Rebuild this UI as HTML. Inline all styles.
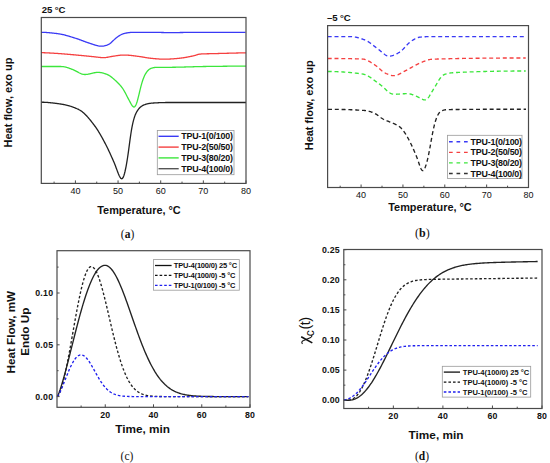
<!DOCTYPE html>
<html><head><meta charset="utf-8"><style>
html,body{margin:0;padding:0;background:#fff;}
svg{display:block;}
text{font-family:"Liberation Sans",sans-serif;fill:#111;}
.b{font-weight:bold;}
.cap{font-family:"Liberation Serif",serif;}
</style></head><body>
<svg width="550" height="463" viewBox="0 0 550 463">
<rect width="550" height="463" fill="#fff"/>
<g id="pa">
<text x="41.8" y="12.9" font-size="9.6" letter-spacing="-0.1" class="b">25 °C</text>
<text transform="translate(12.4,102.5) rotate(-90)" font-size="11" class="b" text-anchor="middle">Heat flow, exo up</text>
<polyline points="41,32.31 41.5,32.31 42,32.32 42.5,32.33 43,32.34 43.5,32.36 44,32.37 44.5,32.4 45,32.42 45.5,32.45 46,32.47 46.5,32.51 47,32.54 47.5,32.58 48,32.62 48.5,32.66 49,32.7 49.5,32.74 50,32.79 50.5,32.84 51,32.89 51.5,32.94 52,32.99 52.5,33.05 53,33.1 53.5,33.16 54,33.22 54.5,33.28 55,33.33 55.5,33.39 56,33.46 56.5,33.52 57,33.58 57.5,33.65 58,33.71 58.5,33.78 59,33.86 59.5,33.94 60,34.02 60.5,34.11 61,34.2 61.5,34.3 62,34.41 62.5,34.51 63,34.63 63.5,34.74 64,34.86 64.5,34.99 65,35.12 65.5,35.25 66,35.38 66.5,35.52 67,35.66 67.5,35.8 68,35.95 68.5,36.09 69,36.24 69.5,36.39 70,36.54 70.5,36.7 71,36.85 71.5,37 72,37.16 72.5,37.32 73,37.47 73.5,37.63 74,37.78 74.5,37.94 75,38.09 75.5,38.25 76,38.41 76.5,38.57 77,38.73 77.5,38.9 78,39.07 78.5,39.24 79,39.42 79.5,39.6 80,39.78 80.5,39.96 81,40.15 81.5,40.34 82,40.53 82.5,40.72 83,40.91 83.5,41.1 84,41.29 84.5,41.48 85,41.67 85.5,41.85 86,42.04 86.5,42.22 87,42.4 87.5,42.57 88,42.74 88.5,42.91 89,43.08 89.5,43.24 90,43.4 90.5,43.56 91,43.72 91.5,43.89 92,44.05 92.5,44.22 93,44.39 93.5,44.55 94,44.72 94.5,44.88 95,45.04 95.5,45.19 96,45.34 96.5,45.48 97,45.62 97.5,45.74 98,45.85 98.5,45.95 99,46.03 99.5,46.1 100,46.15 100.5,46.19 101,46.21 101.5,46.21 102,46.19 102.5,46.15 103,46.09 103.5,46.02 104,45.93 104.5,45.82 105,45.7 105.5,45.57 106,45.42 106.5,45.26 107,45.09 107.5,44.89 108,44.68 108.5,44.44 109,44.17 109.5,43.87 110,43.52 110.5,43.14 111,42.72 111.5,42.27 112,41.8 112.5,41.32 113,40.83 113.5,40.34 114,39.85 114.5,39.38 115,38.93 115.5,38.5 116,38.09 116.5,37.69 117,37.31 117.5,36.95 118,36.59 118.5,36.24 119,35.91 119.5,35.58 120,35.27 120.5,34.98 121,34.71 121.5,34.46 122,34.23 122.5,34.03 123,33.85 123.5,33.69 124,33.54 124.5,33.41 125,33.3 125.5,33.19 126,33.09 126.5,33 127,32.91 127.5,32.82 128,32.74 128.5,32.67 129,32.61 129.5,32.55 130,32.49 130.5,32.45 131,32.41 131.5,32.38 132,32.35 132.5,32.33 133,32.32 133.5,32.31 134,32.31 134.5,32.3 135,32.3 135.5,32.3 136,32.3 136.5,32.3 137,32.3 137.5,32.3 138,32.3 138.5,32.3 139,32.3 139.5,32.3 140,32.3 140.5,32.3 141,32.3 141.5,32.3 142,32.3 142.5,32.3 143,32.3 143.5,32.3 144,32.3 144.5,32.3 145,32.3 145.5,32.3 146,32.3 146.5,32.3 147,32.3 147.5,32.3 148,32.3 148.5,32.3 149,32.3 149.5,32.3 150,32.3 150.5,32.3 151,32.31 151.5,32.31 152,32.31 152.5,32.32 153,32.32 153.5,32.33 154,32.33 154.5,32.34 155,32.35 155.5,32.36 156,32.37 156.5,32.38 157,32.39 157.5,32.4 158,32.41 158.5,32.42 159,32.43 159.5,32.44 160,32.45 160.5,32.46 161,32.47 161.5,32.48 162,32.49 162.5,32.5 163,32.51 163.5,32.52 164,32.53 164.5,32.54 165,32.55 165.5,32.56 166,32.57 166.5,32.57 167,32.58 167.5,32.58 168,32.59 168.5,32.59 169,32.59 169.5,32.6 170,32.6 170.5,32.6 171,32.6 171.5,32.6 172,32.59 172.5,32.59 173,32.59 173.5,32.59 174,32.58 174.5,32.58 175,32.58 175.5,32.57 176,32.57 176.5,32.56 177,32.56 177.5,32.55 178,32.55 178.5,32.54 179,32.53 179.5,32.53 180,32.52 180.5,32.51 181,32.51 181.5,32.5 182,32.49 182.5,32.49 183,32.48 183.5,32.47 184,32.46 184.5,32.46 185,32.45 185.5,32.44 186,32.44 186.5,32.43 187,32.42 187.5,32.41 188,32.41 188.5,32.4 189,32.39 189.5,32.39 190,32.38 190.5,32.37 191,32.37 191.5,32.36 192,32.35 192.5,32.35 193,32.34 193.5,32.34 194,32.33 194.5,32.33 195,32.32 195.5,32.32 196,32.32 196.5,32.31 197,32.31 197.5,32.31 198,32.31 198.5,32.3 199,32.3 199.5,32.3 200,32.3 200.5,32.3 201,32.3 201.5,32.3 202,32.3 202.5,32.3 203,32.3 203.5,32.3 204,32.3 204.5,32.3 205,32.3 205.5,32.3 206,32.3 206.5,32.3 207,32.3 207.5,32.3 208,32.3 208.5,32.3 209,32.3 209.5,32.3 210,32.3 210.5,32.3 211,32.3 211.5,32.3 212,32.3 212.5,32.3 213,32.3 213.5,32.3 214,32.3 214.5,32.3 215,32.3 215.5,32.3 216,32.3 216.5,32.3 217,32.3 217.5,32.3 218,32.3 218.5,32.3 219,32.3 219.5,32.3 220,32.3 220.5,32.3 221,32.3 221.5,32.3 222,32.3 222.5,32.3 223,32.3 223.5,32.3 224,32.3 224.5,32.3 225,32.3 225.5,32.3 226,32.3 226.5,32.3 227,32.3 227.5,32.3 228,32.3 228.5,32.3 229,32.3 229.5,32.3 230,32.3 230.5,32.3 231,32.3 231.5,32.3 232,32.3 232.5,32.3 233,32.3 233.5,32.3 234,32.3 234.5,32.3 235,32.3 235.5,32.3 236,32.3 236.5,32.3 237,32.3 237.5,32.3 238,32.3 238.5,32.3 239,32.3 239.5,32.3 240,32.3 240.5,32.3 241,32.3 241.5,32.3 242,32.3 242.5,32.3 243,32.3 243.5,32.3 244,32.3 244.5,32.3 245,32.3 245.5,32.3" fill="none" stroke="#3a3af5" stroke-width="1.3" stroke-linejoin="round"/>
<polyline points="41,52.62 41.5,52.64 42,52.65 42.5,52.67 43,52.68 43.5,52.71 44,52.73 44.5,52.75 45,52.77 45.5,52.79 46,52.82 46.5,52.84 47,52.87 47.5,52.89 48,52.92 48.5,52.94 49,52.97 49.5,53 50,53.02 50.5,53.05 51,53.08 51.5,53.11 52,53.13 52.5,53.16 53,53.19 53.5,53.22 54,53.25 54.5,53.28 55,53.31 55.5,53.34 56,53.37 56.5,53.41 57,53.44 57.5,53.47 58,53.5 58.5,53.54 59,53.57 59.5,53.6 60,53.64 60.5,53.67 61,53.71 61.5,53.75 62,53.79 62.5,53.82 63,53.86 63.5,53.9 64,53.94 64.5,53.98 65,54.03 65.5,54.07 66,54.11 66.5,54.15 67,54.2 67.5,54.24 68,54.28 68.5,54.33 69,54.37 69.5,54.41 70,54.46 70.5,54.5 71,54.55 71.5,54.59 72,54.64 72.5,54.68 73,54.73 73.5,54.77 74,54.82 74.5,54.86 75,54.91 75.5,54.96 76,55 76.5,55.05 77,55.09 77.5,55.14 78,55.18 78.5,55.23 79,55.28 79.5,55.32 80,55.37 80.5,55.42 81,55.47 81.5,55.51 82,55.56 82.5,55.61 83,55.66 83.5,55.71 84,55.76 84.5,55.81 85,55.86 85.5,55.91 86,55.96 86.5,56 87,56.05 87.5,56.1 88,56.15 88.5,56.2 89,56.25 89.5,56.3 90,56.35 90.5,56.4 91,56.45 91.5,56.5 92,56.55 92.5,56.6 93,56.65 93.5,56.7 94,56.76 94.5,56.81 95,56.86 95.5,56.92 96,56.98 96.5,57.04 97,57.1 97.5,57.16 98,57.22 98.5,57.28 99,57.34 99.5,57.4 100,57.45 100.5,57.5 101,57.55 101.5,57.58 102,57.61 102.5,57.63 103,57.64 103.5,57.65 104,57.63 104.5,57.61 105,57.58 105.5,57.53 106,57.48 106.5,57.41 107,57.33 107.5,57.25 108,57.16 108.5,57.07 109,56.98 109.5,56.88 110,56.79 110.5,56.69 111,56.6 111.5,56.51 112,56.43 112.5,56.34 113,56.26 113.5,56.19 114,56.11 114.5,56.03 115,55.95 115.5,55.88 116,55.8 116.5,55.72 117,55.65 117.5,55.57 118,55.5 118.5,55.43 119,55.37 119.5,55.31 120,55.25 120.5,55.2 121,55.15 121.5,55.11 122,55.08 122.5,55.06 123,55.04 123.5,55.03 124,55.03 124.5,55.03 125,55.04 125.5,55.06 126,55.07 126.5,55.1 127,55.13 127.5,55.16 128,55.19 128.5,55.23 129,55.27 129.5,55.32 130,55.36 130.5,55.41 131,55.47 131.5,55.52 132,55.58 132.5,55.64 133,55.7 133.5,55.76 134,55.82 134.5,55.88 135,55.95 135.5,56.01 136,56.08 136.5,56.14 137,56.21 137.5,56.28 138,56.34 138.5,56.41 139,56.47 139.5,56.54 140,56.61 140.5,56.68 141,56.75 141.5,56.83 142,56.91 142.5,56.99 143,57.08 143.5,57.16 144,57.25 144.5,57.34 145,57.43 145.5,57.52 146,57.6 146.5,57.69 147,57.77 147.5,57.85 148,57.93 148.5,58 149,58.06 149.5,58.13 150,58.18 150.5,58.24 151,58.29 151.5,58.35 152,58.4 152.5,58.45 153,58.49 153.5,58.54 154,58.59 154.5,58.64 155,58.68 155.5,58.73 156,58.77 156.5,58.81 157,58.85 157.5,58.89 158,58.93 158.5,58.96 159,59 159.5,59.03 160,59.05 160.5,59.08 161,59.1 161.5,59.12 162,59.14 162.5,59.16 163,59.17 163.5,59.18 164,59.18 164.5,59.19 165,59.18 165.5,59.18 166,59.17 166.5,59.16 167,59.15 167.5,59.14 168,59.12 168.5,59.1 169,59.07 169.5,59.05 170,59.02 170.5,58.99 171,58.96 171.5,58.93 172,58.9 172.5,58.86 173,58.82 173.5,58.78 174,58.74 174.5,58.7 175,58.66 175.5,58.62 176,58.57 176.5,58.53 177,58.48 177.5,58.44 178,58.39 178.5,58.34 179,58.29 179.5,58.24 180,58.19 180.5,58.14 181,58.08 181.5,58.02 182,57.96 182.5,57.89 183,57.82 183.5,57.74 184,57.67 184.5,57.59 185,57.5 185.5,57.42 186,57.33 186.5,57.24 187,57.15 187.5,57.05 188,56.96 188.5,56.86 189,56.76 189.5,56.66 190,56.56 190.5,56.46 191,56.36 191.5,56.26 192,56.15 192.5,56.04 193,55.93 193.5,55.82 194,55.69 194.5,55.57 195,55.43 195.5,55.28 196,55.12 196.5,54.96 197,54.8 197.5,54.64 198,54.49 198.5,54.36 199,54.25 199.5,54.16 200,54.09 200.5,54.04 201,54 201.5,53.96 202,53.94 202.5,53.91 203,53.89 203.5,53.87 204,53.85 204.5,53.84 205,53.82 205.5,53.81 206,53.79 206.5,53.78 207,53.77 207.5,53.76 208,53.75 208.5,53.74 209,53.73 209.5,53.72 210,53.71 210.5,53.7 211,53.69 211.5,53.68 212,53.67 212.5,53.66 213,53.65 213.5,53.64 214,53.62 214.5,53.61 215,53.6 215.5,53.58 216,53.57 216.5,53.56 217,53.54 217.5,53.53 218,53.52 218.5,53.5 219,53.49 219.5,53.47 220,53.46 220.5,53.45 221,53.43 221.5,53.42 222,53.4 222.5,53.39 223,53.38 223.5,53.36 224,53.35 224.5,53.34 225,53.32 225.5,53.31 226,53.29 226.5,53.28 227,53.27 227.5,53.25 228,53.24 228.5,53.23 229,53.21 229.5,53.2 230,53.19 230.5,53.18 231,53.16 231.5,53.15 232,53.14 232.5,53.12 233,53.11 233.5,53.1 234,53.09 234.5,53.07 235,53.06 235.5,53.05 236,53.04 236.5,53.02 237,53.01 237.5,53 238,52.99 238.5,52.97 239,52.96 239.5,52.95 240,52.94 240.5,52.93 241,52.91 241.5,52.9 242,52.89 242.5,52.88 243,52.87 243.5,52.86 244,52.85 244.5,52.84 245,52.83 245.5,52.82 246,52.81" fill="none" stroke="#f54040" stroke-width="1.3" stroke-linejoin="round"/>
<polyline points="41,66.5 41.5,66.5 42,66.5 42.5,66.5 43,66.5 43.5,66.5 44,66.5 44.5,66.5 45,66.5 45.5,66.5 46,66.5 46.5,66.5 47,66.5 47.5,66.5 48,66.5 48.5,66.5 49,66.5 49.5,66.5 50,66.5 50.5,66.5 51,66.5 51.5,66.5 52,66.5 52.5,66.5 53,66.5 53.5,66.5 54,66.5 54.5,66.5 55,66.5 55.5,66.5 56,66.5 56.5,66.5 57,66.5 57.5,66.5 58,66.5 58.5,66.5 59,66.5 59.5,66.5 60,66.5 60.5,66.51 61,66.52 61.5,66.53 62,66.56 62.5,66.59 63,66.64 63.5,66.7 64,66.77 64.5,66.86 65,66.96 65.5,67.08 66,67.21 66.5,67.35 67,67.5 67.5,67.66 68,67.82 68.5,67.99 69,68.17 69.5,68.35 70,68.53 70.5,68.71 71,68.89 71.5,69.08 72,69.27 72.5,69.46 73,69.66 73.5,69.87 74,70.09 74.5,70.32 75,70.56 75.5,70.82 76,71.08 76.5,71.35 77,71.63 77.5,71.91 78,72.19 78.5,72.46 79,72.73 79.5,72.98 80,73.23 80.5,73.46 81,73.67 81.5,73.86 82,74.03 82.5,74.18 83,74.29 83.5,74.38 84,74.45 84.5,74.48 85,74.49 85.5,74.48 86,74.45 86.5,74.41 87,74.34 87.5,74.27 88,74.19 88.5,74.09 89,73.99 89.5,73.88 90,73.77 90.5,73.65 91,73.53 91.5,73.41 92,73.29 92.5,73.18 93,73.06 93.5,72.95 94,72.85 94.5,72.75 95,72.66 95.5,72.58 96,72.51 96.5,72.46 97,72.42 97.5,72.39 98,72.38 98.5,72.38 99,72.4 99.5,72.43 100,72.49 100.5,72.55 101,72.63 101.5,72.73 102,72.83 102.5,72.95 103,73.08 103.5,73.22 104,73.37 104.5,73.52 105,73.69 105.5,73.86 106,74.04 106.5,74.23 107,74.43 107.5,74.64 108,74.87 108.5,75.12 109,75.4 109.5,75.7 110,76.02 110.5,76.37 111,76.73 111.5,77.12 112,77.52 112.5,77.94 113,78.37 113.5,78.8 114,79.24 114.5,79.69 115,80.14 115.5,80.59 116,81.05 116.5,81.52 117,81.99 117.5,82.47 118,82.96 118.5,83.47 119,83.99 119.5,84.52 120,85.08 120.5,85.65 121,86.25 121.5,86.88 122,87.54 122.5,88.24 123,88.98 123.5,89.76 124,90.59 124.5,91.46 125,92.36 125.5,93.3 126,94.26 126.5,95.23 127,96.21 127.5,97.18 128,98.15 128.5,99.11 129,100.07 129.5,101.01 130,101.93 130.5,102.85 131,103.73 131.5,104.57 132,105.35 132.5,106.03 133,106.56 133.5,106.91 134,107.01 134.5,106.85 135,106.41 135.5,105.69 136,104.69 136.5,103.45 137,101.97 137.5,100.29 138,98.43 138.5,96.44 139,94.35 139.5,92.24 140,90.15 140.5,88.11 141,86.17 141.5,84.33 142,82.61 142.5,81.01 143,79.53 143.5,78.17 144,76.94 144.5,75.81 145,74.8 145.5,73.87 146,73.04 146.5,72.28 147,71.59 147.5,70.98 148,70.44 148.5,69.96 149,69.55 149.5,69.2 150,68.9 150.5,68.65 151,68.43 151.5,68.24 152,68.07 152.5,67.92 153,67.78 153.5,67.67 154,67.57 154.5,67.49 155,67.43 155.5,67.38 156,67.35 156.5,67.33 157,67.32 157.5,67.31 158,67.3 158.5,67.3 159,67.3 159.5,67.3 160,67.3 160.5,67.3 161,67.3 161.5,67.3 162,67.3 162.5,67.3 163,67.3 163.5,67.3 164,67.3 164.5,67.3 165,67.3 165.5,67.3 166,67.3 166.5,67.3 167,67.3 167.5,67.3 168,67.3 168.5,67.3 169,67.3 169.5,67.29 170,67.29 170.5,67.29 171,67.28 171.5,67.28 172,67.28 172.5,67.27 173,67.26 173.5,67.26 174,67.25 174.5,67.24 175,67.24 175.5,67.23 176,67.22 176.5,67.21 177,67.2 177.5,67.19 178,67.18 178.5,67.17 179,67.16 179.5,67.14 180,67.13 180.5,67.12 181,67.11 181.5,67.09 182,67.08 182.5,67.07 183,67.05 183.5,67.04 184,67.03 184.5,67.01 185,67 185.5,66.98 186,66.97 186.5,66.95 187,66.94 187.5,66.92 188,66.91 188.5,66.89 189,66.88 189.5,66.86 190,66.85 190.5,66.83 191,66.82 191.5,66.81 192,66.79 192.5,66.78 193,66.76 193.5,66.75 194,66.73 194.5,66.72 195,66.71 195.5,66.69 196,66.68 196.5,66.67 197,66.65 197.5,66.64 198,66.63 198.5,66.62 199,66.6 199.5,66.59 200,66.58 200.5,66.57 201,66.56 201.5,66.55 202,66.54 202.5,66.53 203,66.52 203.5,66.52 204,66.51 204.5,66.5 205,66.49 205.5,66.49 206,66.48 206.5,66.47 207,66.47 207.5,66.46 208,66.45 208.5,66.45 209,66.44 209.5,66.43 210,66.43 210.5,66.42 211,66.41 211.5,66.41 212,66.4 212.5,66.39 213,66.39 213.5,66.38 214,66.38 214.5,66.37 215,66.36 215.5,66.36 216,66.35 216.5,66.34 217,66.34 217.5,66.33 218,66.33 218.5,66.32 219,66.32 219.5,66.31 220,66.3 220.5,66.3 221,66.29 221.5,66.29 222,66.28 222.5,66.28 223,66.27 223.5,66.26 224,66.26 224.5,66.25 225,66.25 225.5,66.24 226,66.24 226.5,66.23 227,66.23 227.5,66.22 228,66.22 228.5,66.21 229,66.21 229.5,66.2 230,66.2 230.5,66.2 231,66.19 231.5,66.19 232,66.18 232.5,66.18 233,66.17 233.5,66.17 234,66.17 234.5,66.16 235,66.16 235.5,66.16 236,66.15 236.5,66.15 237,66.15 237.5,66.14 238,66.14 238.5,66.14 239,66.13 239.5,66.13 240,66.13 240.5,66.12 241,66.12 241.5,66.12 242,66.12 242.5,66.11 243,66.11 243.5,66.11 244,66.11 244.5,66.11 245,66.1 245.5,66.1 246,66.1" fill="none" stroke="#3ce63c" stroke-width="1.3" stroke-linejoin="round"/>
<polyline points="41,102.21 41.5,102.21 42,102.22 42.5,102.23 43,102.24 43.5,102.25 44,102.27 44.5,102.29 45,102.31 45.5,102.34 46,102.37 46.5,102.4 47,102.43 47.5,102.46 48,102.5 48.5,102.54 49,102.59 49.5,102.63 50,102.68 50.5,102.73 51,102.78 51.5,102.83 52,102.88 52.5,102.94 53,103 53.5,103.06 54,103.12 54.5,103.18 55,103.24 55.5,103.31 56,103.37 56.5,103.44 57,103.51 57.5,103.58 58,103.65 58.5,103.72 59,103.79 59.5,103.86 60,103.94 60.5,104.01 61,104.09 61.5,104.16 62,104.24 62.5,104.33 63,104.41 63.5,104.5 64,104.6 64.5,104.7 65,104.8 65.5,104.91 66,105.02 66.5,105.14 67,105.26 67.5,105.39 68,105.52 68.5,105.66 69,105.8 69.5,105.94 70,106.1 70.5,106.25 71,106.41 71.5,106.58 72,106.75 72.5,106.93 73,107.11 73.5,107.3 74,107.49 74.5,107.68 75,107.88 75.5,108.09 76,108.3 76.5,108.52 77,108.74 77.5,108.97 78,109.21 78.5,109.45 79,109.71 79.5,109.98 80,110.26 80.5,110.57 81,110.89 81.5,111.23 82,111.6 82.5,111.99 83,112.39 83.5,112.82 84,113.27 84.5,113.73 85,114.21 85.5,114.71 86,115.22 86.5,115.75 87,116.3 87.5,116.85 88,117.42 88.5,118 89,118.59 89.5,119.19 90,119.79 90.5,120.41 91,121.03 91.5,121.66 92,122.29 92.5,122.93 93,123.58 93.5,124.23 94,124.89 94.5,125.56 95,126.24 95.5,126.93 96,127.65 96.5,128.38 97,129.13 97.5,129.89 98,130.68 98.5,131.48 99,132.31 99.5,133.14 100,133.99 100.5,134.86 101,135.73 101.5,136.62 102,137.52 102.5,138.43 103,139.35 103.5,140.27 104,141.2 104.5,142.15 105,143.1 105.5,144.06 106,145.03 106.5,146.02 107,147.03 107.5,148.05 108,149.08 108.5,150.13 109,151.2 109.5,152.27 110,153.35 110.5,154.45 111,155.55 111.5,156.65 112,157.76 112.5,158.88 113,160.01 113.5,161.16 114,162.33 114.5,163.54 115,164.79 115.5,166.09 116,167.41 116.5,168.77 117,170.13 117.5,171.49 118,172.81 118.5,174.07 119,175.24 119.5,176.3 120,177.21 120.5,177.95 121,178.47 121.5,178.74 122,178.71 122.5,178.36 123,177.66 123.5,176.61 124,175.22 124.5,173.51 125,171.51 125.5,169.25 126,166.76 126.5,164.05 127,161.13 127.5,157.98 128,154.62 128.5,151.07 129,147.38 129.5,143.64 130,139.94 130.5,136.37 131,133.02 131.5,129.94 132,127.14 132.5,124.63 133,122.39 133.5,120.38 134,118.6 134.5,117.02 135,115.61 135.5,114.36 136,113.26 136.5,112.27 137,111.38 137.5,110.57 138,109.84 138.5,109.16 139,108.55 139.5,107.99 140,107.49 140.5,107.04 141,106.63 141.5,106.27 142,105.95 142.5,105.67 143,105.41 143.5,105.18 144,104.96 144.5,104.76 145,104.57 145.5,104.4 146,104.24 146.5,104.08 147,103.94 147.5,103.81 148,103.7 148.5,103.59 149,103.5 149.5,103.41 150,103.34 150.5,103.28 151,103.22 151.5,103.17 152,103.13 152.5,103.09 153,103.05 153.5,103.02 154,102.98 154.5,102.95 155,102.92 155.5,102.89 156,102.86 156.5,102.83 157,102.8 157.5,102.78 158,102.75 158.5,102.73 159,102.71 159.5,102.69 160,102.67 160.5,102.65 161,102.63 161.5,102.61 162,102.6 162.5,102.58 163,102.57 163.5,102.56 164,102.55 164.5,102.54 165,102.53 165.5,102.52 166,102.52 166.5,102.51 167,102.51 167.5,102.5 168,102.5 168.5,102.5 169,102.5 169.5,102.5 170,102.5 170.5,102.5 171,102.5 171.5,102.5 172,102.5 172.5,102.5 173,102.5 173.5,102.5 174,102.5 174.5,102.5 175,102.5 175.5,102.5 176,102.5 176.5,102.5 177,102.5 177.5,102.5 178,102.5 178.5,102.5 179,102.5 179.5,102.5 180,102.5 180.5,102.5 181,102.5 181.5,102.5 182,102.5 182.5,102.5 183,102.5 183.5,102.5 184,102.5 184.5,102.5 185,102.5 185.5,102.5 186,102.5 186.5,102.5 187,102.5 187.5,102.5 188,102.5 188.5,102.5 189,102.5 189.5,102.5 190,102.5 190.5,102.5 191,102.5 191.5,102.5 192,102.5 192.5,102.5 193,102.5 193.5,102.5 194,102.5 194.5,102.5 195,102.5 195.5,102.5 196,102.5 196.5,102.5 197,102.5 197.5,102.5 198,102.5 198.5,102.5 199,102.5 199.5,102.5 200,102.5 200.5,102.5 201,102.5 201.5,102.5 202,102.5 202.5,102.5 203,102.5 203.5,102.5 204,102.5 204.5,102.5 205,102.5 205.5,102.5 206,102.5 206.5,102.5 207,102.5 207.5,102.5 208,102.5 208.5,102.5 209,102.5 209.5,102.5 210,102.5 210.5,102.5 211,102.5 211.5,102.5 212,102.5 212.5,102.5 213,102.5 213.5,102.5 214,102.5 214.5,102.5 215,102.5 215.5,102.5 216,102.5 216.5,102.5 217,102.5 217.5,102.5 218,102.5 218.5,102.5 219,102.5 219.5,102.5 220,102.5 220.5,102.5 221,102.5 221.5,102.5 222,102.5 222.5,102.5 223,102.5 223.5,102.5 224,102.5 224.5,102.5 225,102.5 225.5,102.5 226,102.5 226.5,102.5 227,102.5 227.5,102.5 228,102.5 228.5,102.5 229,102.5 229.5,102.5 230,102.5 230.5,102.5 231,102.5 231.5,102.5 232,102.5 232.5,102.5 233,102.5 233.5,102.5 234,102.5 234.5,102.5 235,102.5 235.5,102.5 236,102.5 236.5,102.5 237,102.5 237.5,102.5 238,102.5 238.5,102.5 239,102.5 239.5,102.5 240,102.5 240.5,102.5 241,102.5 241.5,102.5 242,102.5 242.5,102.5 243,102.5 243.5,102.5 244,102.5 244.5,102.5 245,102.5 245.5,102.5 246,102.5" fill="none" stroke="#222" stroke-width="1.3" stroke-linejoin="round"/>
<rect x="41.3" y="17.5" width="204.7" height="165.9" fill="none" stroke="#4a4a4a" stroke-width="1.2"/>
<line x1="75.42" y1="183.4" x2="75.42" y2="180.4" stroke="#4a4a4a" stroke-width="1"/>
<line x1="118.06" y1="183.4" x2="118.06" y2="180.4" stroke="#4a4a4a" stroke-width="1"/>
<line x1="160.71" y1="183.4" x2="160.71" y2="180.4" stroke="#4a4a4a" stroke-width="1"/>
<line x1="203.35" y1="183.4" x2="203.35" y2="180.4" stroke="#4a4a4a" stroke-width="1"/>
<line x1="246" y1="183.4" x2="246" y2="180.4" stroke="#4a4a4a" stroke-width="1"/>
<line x1="54.09" y1="183.4" x2="54.09" y2="181.6" stroke="#4a4a4a" stroke-width="1"/>
<line x1="96.74" y1="183.4" x2="96.74" y2="181.6" stroke="#4a4a4a" stroke-width="1"/>
<line x1="139.39" y1="183.4" x2="139.39" y2="181.6" stroke="#4a4a4a" stroke-width="1"/>
<line x1="182.03" y1="183.4" x2="182.03" y2="181.6" stroke="#4a4a4a" stroke-width="1"/>
<line x1="224.68" y1="183.4" x2="224.68" y2="181.6" stroke="#4a4a4a" stroke-width="1"/>
<text x="75.42" y="193.9" font-size="9" text-anchor="middle">40</text>
<text x="118.06" y="193.9" font-size="9" text-anchor="middle">50</text>
<text x="160.71" y="193.9" font-size="9" text-anchor="middle">60</text>
<text x="203.35" y="193.9" font-size="9" text-anchor="middle">70</text>
<text x="246" y="193.9" font-size="9" text-anchor="middle">80</text>
<text x="139" y="213.6" font-size="10.9" class="b" text-anchor="middle">Temperature, °C</text>
<rect x="157.3" y="130.5" width="76.7" height="44.2" fill="#fff" stroke="#999" stroke-width="0.8"/>
<line x1="158.5" y1="136.3" x2="178.7" y2="136.3" stroke="#3a3af5" stroke-width="1.4"/>
<text x="181.3" y="139.4" font-size="8.9" letter-spacing="-0.2" class="b">TPU-1(0/100)</text>
<line x1="158.5" y1="147.1" x2="178.7" y2="147.1" stroke="#f54040" stroke-width="1.4"/>
<text x="181.3" y="150.2" font-size="8.9" letter-spacing="-0.2" class="b">TPU-2(50/50)</text>
<line x1="158.5" y1="157.9" x2="178.7" y2="157.9" stroke="#3ce63c" stroke-width="1.4"/>
<text x="181.3" y="161" font-size="8.9" letter-spacing="-0.2" class="b">TPU-3(80/20)</text>
<line x1="158.5" y1="168.7" x2="178.7" y2="168.7" stroke="#555" stroke-width="1.4"/>
<text x="181.3" y="171.8" font-size="8.9" letter-spacing="-0.2" class="b">TPU-4(100/0)</text>
<text x="127.5" y="237.5" font-size="11.5" class="cap" text-anchor="middle">(<tspan font-weight="bold">a</tspan>)</text>
</g>
<g id="pb">
<text x="326.9" y="20.8" font-size="9.6" letter-spacing="-0.1" class="b">–5 °C</text>
<text transform="translate(312.9,105.3) rotate(-90)" font-size="11" class="b" text-anchor="middle">Heat flow, exo up</text>
<polyline points="327.7,36.6 328.2,36.6 328.7,36.6 329.2,36.6 329.7,36.6 330.2,36.6 330.7,36.6 331.2,36.6 331.7,36.6 332.2,36.6 332.7,36.6 333.2,36.6 333.7,36.6 334.2,36.6 334.7,36.6 335.2,36.6 335.7,36.6 336.2,36.6 336.7,36.6 337.2,36.6 337.7,36.6 338.2,36.6 338.7,36.6 339.2,36.6 339.7,36.6 340.2,36.6 340.7,36.6 341.2,36.6 341.7,36.6 342.2,36.6 342.7,36.6 343.2,36.6 343.7,36.6 344.2,36.6 344.7,36.6 345.2,36.6 345.7,36.6 346.2,36.6 346.7,36.6 347.2,36.6 347.7,36.6 348.2,36.6 348.7,36.6 349.2,36.6 349.7,36.61 350.2,36.61 350.7,36.62 351.2,36.63 351.7,36.65 352.2,36.68 352.7,36.72 353.2,36.77 353.7,36.83 354.2,36.89 354.7,36.97 355.2,37.06 355.7,37.15 356.2,37.26 356.7,37.37 357.2,37.49 357.7,37.62 358.2,37.75 358.7,37.89 359.2,38.04 359.7,38.19 360.2,38.34 360.7,38.51 361.2,38.67 361.7,38.84 362.2,39.01 362.7,39.19 363.2,39.36 363.7,39.55 364.2,39.74 364.7,39.93 365.2,40.14 365.7,40.36 366.2,40.59 366.7,40.84 367.2,41.11 367.7,41.39 368.2,41.69 368.7,42.01 369.2,42.34 369.7,42.69 370.2,43.04 370.7,43.41 371.2,43.78 371.7,44.16 372.2,44.55 372.7,44.94 373.2,45.33 373.7,45.73 374.2,46.12 374.7,46.51 375.2,46.9 375.7,47.29 376.2,47.67 376.7,48.05 377.2,48.42 377.7,48.8 378.2,49.18 378.7,49.56 379.2,49.96 379.7,50.36 380.2,50.77 380.7,51.19 381.2,51.62 381.7,52.05 382.2,52.47 382.7,52.89 383.2,53.31 383.7,53.7 384.2,54.08 384.7,54.44 385.2,54.78 385.7,55.08 386.2,55.35 386.7,55.58 387.2,55.77 387.7,55.93 388.2,56.04 388.7,56.11 389.2,56.14 389.7,56.13 390.2,56.09 390.7,56.03 391.2,55.94 391.7,55.82 392.2,55.69 392.7,55.54 393.2,55.37 393.7,55.18 394.2,54.98 394.7,54.77 395.2,54.54 395.7,54.3 396.2,54.05 396.7,53.8 397.2,53.54 397.7,53.27 398.2,52.99 398.7,52.7 399.2,52.4 399.7,52.08 400.2,51.75 400.7,51.38 401.2,50.99 401.7,50.57 402.2,50.11 402.7,49.62 403.2,49.11 403.7,48.58 404.2,48.02 404.7,47.46 405.2,46.89 405.7,46.32 406.2,45.75 406.7,45.2 407.2,44.66 407.7,44.15 408.2,43.65 408.7,43.19 409.2,42.75 409.7,42.34 410.2,41.95 410.7,41.58 411.2,41.22 411.7,40.88 412.2,40.55 412.7,40.22 413.2,39.91 413.7,39.6 414.2,39.3 414.7,39.02 415.2,38.75 415.7,38.5 416.2,38.26 416.7,38.04 417.2,37.84 417.7,37.67 418.2,37.52 418.7,37.39 419.2,37.28 419.7,37.19 420.2,37.11 420.7,37.05 421.2,37 421.7,36.96 422.2,36.91 422.7,36.88 423.2,36.84 423.7,36.81 424.2,36.78 424.7,36.76 425.2,36.73 425.7,36.71 426.2,36.69 426.7,36.67 427.2,36.65 427.7,36.64 428.2,36.63 428.7,36.62 429.2,36.61 429.7,36.61 430.2,36.6 430.7,36.6 431.2,36.6 431.7,36.6 432.2,36.6 432.7,36.6 433.2,36.6 433.7,36.6 434.2,36.6 434.7,36.6 435.2,36.6 435.7,36.6 436.2,36.6 436.7,36.6 437.2,36.6 437.7,36.6 438.2,36.6 438.7,36.6 439.2,36.6 439.7,36.6 440.2,36.6 440.7,36.6 441.2,36.6 441.7,36.6 442.2,36.6 442.7,36.6 443.2,36.6 443.7,36.6 444.2,36.6 444.7,36.6 445.2,36.6 445.7,36.6 446.2,36.6 446.7,36.6 447.2,36.6 447.7,36.6 448.2,36.6 448.7,36.6 449.2,36.6 449.7,36.6 450.2,36.6 450.7,36.6 451.2,36.6 451.7,36.6 452.2,36.6 452.7,36.6 453.2,36.6 453.7,36.6 454.2,36.6 454.7,36.6 455.2,36.6 455.7,36.6 456.2,36.6 456.7,36.6 457.2,36.6 457.7,36.6 458.2,36.6 458.7,36.6 459.2,36.6 459.7,36.6 460.2,36.6 460.7,36.6 461.2,36.6 461.7,36.6 462.2,36.6 462.7,36.6 463.2,36.6 463.7,36.6 464.2,36.6 464.7,36.6 465.2,36.6 465.7,36.6 466.2,36.6 466.7,36.6 467.2,36.6 467.7,36.6 468.2,36.6 468.7,36.6 469.2,36.6 469.7,36.6 470.2,36.6 470.7,36.6 471.2,36.6 471.7,36.6 472.2,36.6 472.7,36.6 473.2,36.6 473.7,36.6 474.2,36.6 474.7,36.6 475.2,36.6 475.7,36.6 476.2,36.6 476.7,36.6 477.2,36.6 477.7,36.6 478.2,36.6 478.7,36.6 479.2,36.6 479.7,36.6 480.2,36.6 480.7,36.6 481.2,36.6 481.7,36.6 482.2,36.6 482.7,36.6 483.2,36.6 483.7,36.6 484.2,36.6 484.7,36.6 485.2,36.6 485.7,36.6 486.2,36.6 486.7,36.6 487.2,36.6 487.7,36.6 488.2,36.6 488.7,36.6 489.2,36.6 489.7,36.6 490.2,36.6 490.7,36.6 491.2,36.6 491.7,36.6 492.2,36.6 492.7,36.6 493.2,36.6 493.7,36.6 494.2,36.6 494.7,36.6 495.2,36.6 495.7,36.6 496.2,36.6 496.7,36.6 497.2,36.6 497.7,36.6 498.2,36.6 498.7,36.6 499.2,36.6 499.7,36.6 500.2,36.6 500.7,36.6 501.2,36.6 501.7,36.6 502.2,36.6 502.7,36.6 503.2,36.6 503.7,36.6 504.2,36.6 504.7,36.6 505.2,36.6 505.7,36.6 506.2,36.6 506.7,36.6 507.2,36.6 507.7,36.6 508.2,36.6 508.7,36.6 509.2,36.6 509.7,36.6 510.2,36.6 510.7,36.6 511.2,36.6 511.7,36.6 512.2,36.6 512.7,36.6 513.2,36.6 513.7,36.6 514.2,36.6 514.7,36.6 515.2,36.6 515.7,36.6 516.2,36.6 516.7,36.6 517.2,36.6 517.7,36.6 518.2,36.6 518.7,36.6 519.2,36.6 519.7,36.6 520.2,36.6 520.7,36.6 521.2,36.6 521.7,36.6 522.2,36.6 522.7,36.6 523.2,36.6 523.7,36.6 524.2,36.6 524.7,36.6 525.2,36.6 525.7,36.6" fill="none" stroke="#3a3af5" stroke-width="1.35" stroke-dasharray="4 2.8"/>
<polyline points="327.7,58.5 328.2,58.5 328.7,58.5 329.2,58.5 329.7,58.5 330.2,58.5 330.7,58.5 331.2,58.5 331.7,58.51 332.2,58.51 332.7,58.51 333.2,58.51 333.7,58.51 334.2,58.51 334.7,58.52 335.2,58.52 335.7,58.52 336.2,58.52 336.7,58.53 337.2,58.53 337.7,58.53 338.2,58.54 338.7,58.54 339.2,58.54 339.7,58.55 340.2,58.55 340.7,58.56 341.2,58.56 341.7,58.57 342.2,58.57 342.7,58.58 343.2,58.58 343.7,58.59 344.2,58.59 344.7,58.6 345.2,58.61 345.7,58.61 346.2,58.62 346.7,58.63 347.2,58.64 347.7,58.64 348.2,58.65 348.7,58.66 349.2,58.67 349.7,58.68 350.2,58.69 350.7,58.69 351.2,58.7 351.7,58.71 352.2,58.72 352.7,58.73 353.2,58.74 353.7,58.75 354.2,58.77 354.7,58.78 355.2,58.79 355.7,58.8 356.2,58.81 356.7,58.83 357.2,58.84 357.7,58.85 358.2,58.86 358.7,58.88 359.2,58.89 359.7,58.91 360.2,58.92 360.7,58.94 361.2,58.96 361.7,58.98 362.2,59.02 362.7,59.06 363.2,59.11 363.7,59.19 364.2,59.28 364.7,59.39 365.2,59.53 365.7,59.69 366.2,59.87 366.7,60.07 367.2,60.29 367.7,60.53 368.2,60.79 368.7,61.06 369.2,61.34 369.7,61.63 370.2,61.93 370.7,62.24 371.2,62.56 371.7,62.87 372.2,63.2 372.7,63.52 373.2,63.85 373.7,64.18 374.2,64.51 374.7,64.85 375.2,65.19 375.7,65.55 376.2,65.92 376.7,66.31 377.2,66.72 377.7,67.14 378.2,67.57 378.7,68.01 379.2,68.46 379.7,68.91 380.2,69.36 380.7,69.8 381.2,70.23 381.7,70.65 382.2,71.06 382.7,71.44 383.2,71.8 383.7,72.14 384.2,72.46 384.7,72.75 385.2,73.02 385.7,73.28 386.2,73.53 386.7,73.76 387.2,73.99 387.7,74.2 388.2,74.41 388.7,74.61 389.2,74.8 389.7,74.97 390.2,75.13 390.7,75.27 391.2,75.4 391.7,75.5 392.2,75.58 392.7,75.63 393.2,75.66 393.7,75.67 394.2,75.64 394.7,75.59 395.2,75.51 395.7,75.4 396.2,75.27 396.7,75.12 397.2,74.94 397.7,74.75 398.2,74.54 398.7,74.31 399.2,74.07 399.7,73.82 400.2,73.56 400.7,73.3 401.2,73.03 401.7,72.75 402.2,72.48 402.7,72.21 403.2,71.94 403.7,71.68 404.2,71.42 404.7,71.16 405.2,70.9 405.7,70.65 406.2,70.39 406.7,70.13 407.2,69.87 407.7,69.6 408.2,69.33 408.7,69.05 409.2,68.77 409.7,68.49 410.2,68.2 410.7,67.91 411.2,67.62 411.7,67.33 412.2,67.04 412.7,66.75 413.2,66.46 413.7,66.18 414.2,65.89 414.7,65.62 415.2,65.34 415.7,65.07 416.2,64.81 416.7,64.55 417.2,64.3 417.7,64.05 418.2,63.81 418.7,63.58 419.2,63.36 419.7,63.14 420.2,62.93 420.7,62.72 421.2,62.51 421.7,62.3 422.2,62.1 422.7,61.89 423.2,61.68 423.7,61.48 424.2,61.28 424.7,61.08 425.2,60.89 425.7,60.7 426.2,60.52 426.7,60.35 427.2,60.19 427.7,60.03 428.2,59.89 428.7,59.76 429.2,59.64 429.7,59.54 430.2,59.45 430.7,59.38 431.2,59.32 431.7,59.27 432.2,59.23 432.7,59.2 433.2,59.17 433.7,59.15 434.2,59.13 434.7,59.12 435.2,59.1 435.7,59.09 436.2,59.07 436.7,59.06 437.2,59.04 437.7,59.03 438.2,59.01 438.7,59 439.2,58.98 439.7,58.97 440.2,58.95 440.7,58.94 441.2,58.93 441.7,58.91 442.2,58.9 442.7,58.89 443.2,58.87 443.7,58.86 444.2,58.85 444.7,58.83 445.2,58.82 445.7,58.81 446.2,58.8 446.7,58.78 447.2,58.77 447.7,58.76 448.2,58.75 448.7,58.74 449.2,58.72 449.7,58.71 450.2,58.7 450.7,58.69 451.2,58.68 451.7,58.67 452.2,58.66 452.7,58.65 453.2,58.64 453.7,58.62 454.2,58.61 454.7,58.6 455.2,58.59 455.7,58.58 456.2,58.57 456.7,58.56 457.2,58.55 457.7,58.54 458.2,58.53 458.7,58.52 459.2,58.51 459.7,58.51 460.2,58.5 460.7,58.49 461.2,58.48 461.7,58.47 462.2,58.46 462.7,58.45 463.2,58.44 463.7,58.43 464.2,58.43 464.7,58.42 465.2,58.41 465.7,58.4 466.2,58.39 466.7,58.39 467.2,58.38 467.7,58.37 468.2,58.36 468.7,58.36 469.2,58.35 469.7,58.34 470.2,58.33 470.7,58.33 471.2,58.32 471.7,58.31 472.2,58.31 472.7,58.3 473.2,58.29 473.7,58.29 474.2,58.28 474.7,58.27 475.2,58.27 475.7,58.26 476.2,58.25 476.7,58.25 477.2,58.24 477.7,58.24 478.2,58.23 478.7,58.23 479.2,58.22 479.7,58.21 480.2,58.21 480.7,58.2 481.2,58.2 481.7,58.19 482.2,58.19 482.7,58.18 483.2,58.18 483.7,58.17 484.2,58.17 484.7,58.16 485.2,58.16 485.7,58.16 486.2,58.15 486.7,58.15 487.2,58.14 487.7,58.14 488.2,58.13 488.7,58.13 489.2,58.13 489.7,58.12 490.2,58.12 490.7,58.11 491.2,58.11 491.7,58.11 492.2,58.1 492.7,58.1 493.2,58.1 493.7,58.09 494.2,58.09 494.7,58.09 495.2,58.08 495.7,58.08 496.2,58.08 496.7,58.07 497.2,58.07 497.7,58.07 498.2,58.07 498.7,58.06 499.2,58.06 499.7,58.06 500.2,58.06 500.7,58.05 501.2,58.05 501.7,58.05 502.2,58.05 502.7,58.05 503.2,58.04 503.7,58.04 504.2,58.04 504.7,58.04 505.2,58.04 505.7,58.03 506.2,58.03 506.7,58.03 507.2,58.03 507.7,58.03 508.2,58.03 508.7,58.02 509.2,58.02 509.7,58.02 510.2,58.02 510.7,58.02 511.2,58.02 511.7,58.02 512.2,58.01 512.7,58.01 513.2,58.01 513.7,58.01 514.2,58.01 514.7,58.01 515.2,58.01 515.7,58.01 516.2,58.01 516.7,58.01 517.2,58.01 517.7,58.01 518.2,58 518.7,58 519.2,58 519.7,58 520.2,58 520.7,58 521.2,58 521.7,58 522.2,58 522.7,58 523.2,58 523.7,58 524.2,58 524.7,58 525.2,58 525.7,58" fill="none" stroke="#f54040" stroke-width="1.35" stroke-dasharray="4 2.8"/>
<polyline points="327.7,71.5 328.2,71.5 328.7,71.51 329.2,71.51 329.7,71.51 330.2,71.52 330.7,71.52 331.2,71.53 331.7,71.54 332.2,71.55 332.7,71.56 333.2,71.57 333.7,71.58 334.2,71.59 334.7,71.61 335.2,71.62 335.7,71.64 336.2,71.65 336.7,71.67 337.2,71.69 337.7,71.71 338.2,71.73 338.7,71.75 339.2,71.78 339.7,71.8 340.2,71.83 340.7,71.85 341.2,71.88 341.7,71.91 342.2,71.94 342.7,71.97 343.2,72 343.7,72.03 344.2,72.06 344.7,72.1 345.2,72.13 345.7,72.17 346.2,72.21 346.7,72.25 347.2,72.28 347.7,72.33 348.2,72.37 348.7,72.41 349.2,72.45 349.7,72.5 350.2,72.54 350.7,72.59 351.2,72.63 351.7,72.68 352.2,72.73 352.7,72.78 353.2,72.83 353.7,72.89 354.2,72.94 354.7,72.99 355.2,73.05 355.7,73.1 356.2,73.16 356.7,73.22 357.2,73.28 357.7,73.34 358.2,73.4 358.7,73.46 359.2,73.52 359.7,73.59 360.2,73.65 360.7,73.72 361.2,73.79 361.7,73.87 362.2,73.95 362.7,74.04 363.2,74.14 363.7,74.26 364.2,74.39 364.7,74.54 365.2,74.71 365.7,74.9 366.2,75.11 366.7,75.33 367.2,75.58 367.7,75.84 368.2,76.11 368.7,76.4 369.2,76.71 369.7,77.02 370.2,77.35 370.7,77.68 371.2,78.03 371.7,78.38 372.2,78.74 372.7,79.1 373.2,79.47 373.7,79.84 374.2,80.21 374.7,80.59 375.2,80.96 375.7,81.34 376.2,81.71 376.7,82.08 377.2,82.44 377.7,82.8 378.2,83.17 378.7,83.53 379.2,83.89 379.7,84.26 380.2,84.64 380.7,85.03 381.2,85.44 381.7,85.86 382.2,86.29 382.7,86.74 383.2,87.2 383.7,87.66 384.2,88.13 384.7,88.6 385.2,89.07 385.7,89.54 386.2,90 386.7,90.45 387.2,90.88 387.7,91.3 388.2,91.71 388.7,92.09 389.2,92.44 389.7,92.77 390.2,93.07 390.7,93.34 391.2,93.57 391.7,93.76 392.2,93.92 392.7,94.04 393.2,94.13 393.7,94.19 394.2,94.23 394.7,94.24 395.2,94.25 395.7,94.24 396.2,94.22 396.7,94.2 397.2,94.18 397.7,94.15 398.2,94.12 398.7,94.09 399.2,94.06 399.7,94.03 400.2,93.99 400.7,93.96 401.2,93.92 401.7,93.89 402.2,93.85 402.7,93.82 403.2,93.79 403.7,93.76 404.2,93.73 404.7,93.71 405.2,93.68 405.7,93.67 406.2,93.65 406.7,93.65 407.2,93.65 407.7,93.66 408.2,93.69 408.7,93.73 409.2,93.79 409.7,93.87 410.2,93.97 410.7,94.09 411.2,94.23 411.7,94.39 412.2,94.56 412.7,94.74 413.2,94.94 413.7,95.15 414.2,95.36 414.7,95.57 415.2,95.79 415.7,96.01 416.2,96.23 416.7,96.45 417.2,96.67 417.7,96.9 418.2,97.13 418.7,97.37 419.2,97.62 419.7,97.87 420.2,98.14 420.7,98.4 421.2,98.67 421.7,98.93 422.2,99.17 422.7,99.4 423.2,99.6 423.7,99.75 424.2,99.87 424.7,99.92 425.2,99.89 425.7,99.79 426.2,99.58 426.7,99.27 427.2,98.86 427.7,98.35 428.2,97.75 428.7,97.07 429.2,96.33 429.7,95.54 430.2,94.71 430.7,93.87 431.2,93.02 431.7,92.18 432.2,91.35 432.7,90.53 433.2,89.72 433.7,88.91 434.2,88.1 434.7,87.27 435.2,86.44 435.7,85.59 436.2,84.74 436.7,83.88 437.2,83.02 437.7,82.17 438.2,81.33 438.7,80.51 439.2,79.73 439.7,78.97 440.2,78.26 440.7,77.6 441.2,77 441.7,76.45 442.2,75.96 442.7,75.54 443.2,75.18 443.7,74.87 444.2,74.61 444.7,74.39 445.2,74.2 445.7,74.03 446.2,73.88 446.7,73.74 447.2,73.61 447.7,73.49 448.2,73.38 448.7,73.28 449.2,73.18 449.7,73.1 450.2,73.02 450.7,72.95 451.2,72.89 451.7,72.83 452.2,72.78 452.7,72.74 453.2,72.71 453.7,72.67 454.2,72.64 454.7,72.61 455.2,72.59 455.7,72.56 456.2,72.54 456.7,72.51 457.2,72.49 457.7,72.46 458.2,72.44 458.7,72.42 459.2,72.39 459.7,72.37 460.2,72.35 460.7,72.32 461.2,72.3 461.7,72.28 462.2,72.26 462.7,72.23 463.2,72.21 463.7,72.19 464.2,72.17 464.7,72.15 465.2,72.13 465.7,72.11 466.2,72.09 466.7,72.07 467.2,72.05 467.7,72.03 468.2,72.01 468.7,71.99 469.2,71.97 469.7,71.95 470.2,71.93 470.7,71.91 471.2,71.9 471.7,71.88 472.2,71.86 472.7,71.84 473.2,71.83 473.7,71.81 474.2,71.79 474.7,71.77 475.2,71.76 475.7,71.74 476.2,71.73 476.7,71.71 477.2,71.69 477.7,71.68 478.2,71.66 478.7,71.65 479.2,71.63 479.7,71.62 480.2,71.6 480.7,71.59 481.2,71.58 481.7,71.56 482.2,71.55 482.7,71.53 483.2,71.52 483.7,71.51 484.2,71.5 484.7,71.48 485.2,71.47 485.7,71.46 486.2,71.45 486.7,71.43 487.2,71.42 487.7,71.41 488.2,71.4 488.7,71.39 489.2,71.38 489.7,71.37 490.2,71.35 490.7,71.34 491.2,71.33 491.7,71.32 492.2,71.31 492.7,71.3 493.2,71.29 493.7,71.28 494.2,71.28 494.7,71.27 495.2,71.26 495.7,71.25 496.2,71.24 496.7,71.23 497.2,71.22 497.7,71.21 498.2,71.21 498.7,71.2 499.2,71.19 499.7,71.18 500.2,71.18 500.7,71.17 501.2,71.16 501.7,71.16 502.2,71.15 502.7,71.14 503.2,71.14 503.7,71.13 504.2,71.12 504.7,71.12 505.2,71.11 505.7,71.11 506.2,71.1 506.7,71.1 507.2,71.09 507.7,71.09 508.2,71.08 508.7,71.08 509.2,71.07 509.7,71.07 510.2,71.06 510.7,71.06 511.2,71.06 511.7,71.05 512.2,71.05 512.7,71.04 513.2,71.04 513.7,71.04 514.2,71.04 514.7,71.03 515.2,71.03 515.7,71.03 516.2,71.02 516.7,71.02 517.2,71.02 517.7,71.02 518.2,71.02 518.7,71.01 519.2,71.01 519.7,71.01 520.2,71.01 520.7,71.01 521.2,71.01 521.7,71 522.2,71 522.7,71 523.2,71 523.7,71 524.2,71 524.7,71 525.2,71 525.7,71" fill="none" stroke="#3ce63c" stroke-width="1.35" stroke-dasharray="4 2.8"/>
<polyline points="328,109.3 328.5,109.3 329,109.3 329.5,109.3 330,109.3 330.5,109.31 331,109.31 331.5,109.31 332,109.31 332.5,109.32 333,109.32 333.5,109.33 334,109.33 334.5,109.33 335,109.34 335.5,109.35 336,109.35 336.5,109.36 337,109.37 337.5,109.37 338,109.38 338.5,109.39 339,109.4 339.5,109.41 340,109.42 340.5,109.43 341,109.44 341.5,109.45 342,109.46 342.5,109.47 343,109.48 343.5,109.5 344,109.51 344.5,109.52 345,109.54 345.5,109.55 346,109.57 346.5,109.58 347,109.6 347.5,109.62 348,109.63 348.5,109.65 349,109.67 349.5,109.69 350,109.7 350.5,109.72 351,109.74 351.5,109.76 352,109.78 352.5,109.81 353,109.83 353.5,109.85 354,109.87 354.5,109.9 355,109.92 355.5,109.94 356,109.97 356.5,109.99 357,110.02 357.5,110.05 358,110.07 358.5,110.1 359,110.13 359.5,110.16 360,110.18 360.5,110.21 361,110.24 361.5,110.27 362,110.31 362.5,110.34 363,110.37 363.5,110.41 364,110.44 364.5,110.49 365,110.54 365.5,110.59 366,110.66 366.5,110.73 367,110.82 367.5,110.91 368,111.02 368.5,111.14 369,111.28 369.5,111.42 370,111.57 370.5,111.73 371,111.89 371.5,112.07 372,112.25 372.5,112.44 373,112.63 373.5,112.84 374,113.05 374.5,113.29 375,113.53 375.5,113.8 376,114.09 376.5,114.41 377,114.74 377.5,115.09 378,115.45 378.5,115.83 379,116.21 379.5,116.59 380,116.97 380.5,117.34 381,117.71 381.5,118.06 382,118.39 382.5,118.7 383,119 383.5,119.27 384,119.53 384.5,119.78 385,120.01 385.5,120.23 386,120.44 386.5,120.65 387,120.85 387.5,121.05 388,121.24 388.5,121.44 389,121.63 389.5,121.83 390,122.03 390.5,122.23 391,122.43 391.5,122.64 392,122.85 392.5,123.05 393,123.26 393.5,123.47 394,123.69 394.5,123.9 395,124.12 395.5,124.34 396,124.58 396.5,124.82 397,125.08 397.5,125.35 398,125.65 398.5,125.97 399,126.32 399.5,126.7 400,127.11 400.5,127.57 401,128.06 401.5,128.58 402,129.15 402.5,129.74 403,130.36 403.5,131.02 404,131.69 404.5,132.39 405,133.12 405.5,133.88 406,134.67 406.5,135.48 407,136.33 407.5,137.21 408,138.12 408.5,139.05 409,140.01 409.5,140.99 410,141.99 410.5,143 411,144.03 411.5,145.07 412,146.13 412.5,147.2 413,148.29 413.5,149.4 414,150.52 414.5,151.67 415,152.84 415.5,154.03 416,155.25 416.5,156.51 417,157.81 417.5,159.17 418,160.57 418.5,162.02 419,163.48 419.5,164.94 420,166.34 420.5,167.63 421,168.75 421.5,169.65 422,170.28 422.5,170.63 423,170.66 423.5,170.38 424,169.8 424.5,168.95 425,167.86 425.5,166.55 426,165.06 426.5,163.39 427,161.57 427.5,159.59 428,157.44 428.5,155.12 429,152.64 429.5,150.03 430,147.31 430.5,144.54 431,141.74 431.5,138.97 432,136.26 432.5,133.63 433,131.12 433.5,128.76 434,126.56 434.5,124.53 435,122.68 435.5,121 436,119.47 436.5,118.08 437,116.82 437.5,115.69 438,114.7 438.5,113.83 439,113.09 439.5,112.47 440,111.96 440.5,111.55 441,111.22 441.5,110.94 442,110.71 442.5,110.51 443,110.34 443.5,110.19 444,110.06 444.5,109.95 445,109.86 445.5,109.78 446,109.72 446.5,109.67 447,109.64 447.5,109.62 448,109.6 448.5,109.58 449,109.58 449.5,109.57 450,109.56 450.5,109.55 451,109.55 451.5,109.54 452,109.53 452.5,109.53 453,109.52 453.5,109.52 454,109.51 454.5,109.51 455,109.5 455.5,109.49 456,109.49 456.5,109.48 457,109.48 457.5,109.47 458,109.47 458.5,109.46 459,109.46 459.5,109.45 460,109.45 460.5,109.44 461,109.44 461.5,109.43 462,109.43 462.5,109.42 463,109.42 463.5,109.41 464,109.41 464.5,109.4 465,109.4 465.5,109.4 466,109.39 466.5,109.39 467,109.38 467.5,109.38 468,109.38 468.5,109.37 469,109.37 469.5,109.36 470,109.36 470.5,109.36 471,109.35 471.5,109.35 472,109.35 472.5,109.34 473,109.34 473.5,109.34 474,109.33 474.5,109.33 475,109.33 475.5,109.32 476,109.32 476.5,109.32 477,109.31 477.5,109.31 478,109.31 478.5,109.3 479,109.3 479.5,109.3 480,109.3 480.5,109.29 481,109.29 481.5,109.29 482,109.29 482.5,109.28 483,109.28 483.5,109.28 484,109.28 484.5,109.27 485,109.27 485.5,109.27 486,109.27 486.5,109.27 487,109.26 487.5,109.26 488,109.26 488.5,109.26 489,109.26 489.5,109.25 490,109.25 490.5,109.25 491,109.25 491.5,109.25 492,109.25 492.5,109.24 493,109.24 493.5,109.24 494,109.24 494.5,109.24 495,109.24 495.5,109.23 496,109.23 496.5,109.23 497,109.23 497.5,109.23 498,109.23 498.5,109.23 499,109.23 499.5,109.22 500,109.22 500.5,109.22 501,109.22 501.5,109.22 502,109.22 502.5,109.22 503,109.22 503.5,109.22 504,109.22 504.5,109.21 505,109.21 505.5,109.21 506,109.21 506.5,109.21 507,109.21 507.5,109.21 508,109.21 508.5,109.21 509,109.21 509.5,109.21 510,109.21 510.5,109.21 511,109.21 511.5,109.21 512,109.21 512.5,109.21 513,109.2 513.5,109.2 514,109.2 514.5,109.2 515,109.2 515.5,109.2 516,109.2 516.5,109.2 517,109.2 517.5,109.2 518,109.2 518.5,109.2 519,109.2 519.5,109.2 520,109.2 520.5,109.2 521,109.2 521.5,109.2 522,109.2 522.5,109.2 523,109.2 523.5,109.2 524,109.2 524.5,109.2 525,109.2 525.5,109.2 526,109.2" fill="none" stroke="#222" stroke-width="1.35" stroke-dasharray="4 2.8"/>
<rect x="327.6" y="25.6" width="200.9" height="161.9" fill="none" stroke="#4a4a4a" stroke-width="1.2"/>
<line x1="361.08" y1="187.5" x2="361.08" y2="184.5" stroke="#4a4a4a" stroke-width="1"/>
<line x1="402.94" y1="187.5" x2="402.94" y2="184.5" stroke="#4a4a4a" stroke-width="1"/>
<line x1="444.79" y1="187.5" x2="444.79" y2="184.5" stroke="#4a4a4a" stroke-width="1"/>
<line x1="486.65" y1="187.5" x2="486.65" y2="184.5" stroke="#4a4a4a" stroke-width="1"/>
<line x1="528.5" y1="187.5" x2="528.5" y2="184.5" stroke="#4a4a4a" stroke-width="1"/>
<line x1="340.16" y1="187.5" x2="340.16" y2="185.7" stroke="#4a4a4a" stroke-width="1"/>
<line x1="382.01" y1="187.5" x2="382.01" y2="185.7" stroke="#4a4a4a" stroke-width="1"/>
<line x1="423.86" y1="187.5" x2="423.86" y2="185.7" stroke="#4a4a4a" stroke-width="1"/>
<line x1="465.72" y1="187.5" x2="465.72" y2="185.7" stroke="#4a4a4a" stroke-width="1"/>
<line x1="507.57" y1="187.5" x2="507.57" y2="185.7" stroke="#4a4a4a" stroke-width="1"/>
<text x="361.08" y="197.6" font-size="9" text-anchor="middle">40</text>
<text x="402.94" y="197.6" font-size="9" text-anchor="middle">50</text>
<text x="444.79" y="197.6" font-size="9" text-anchor="middle">60</text>
<text x="486.65" y="197.6" font-size="9" text-anchor="middle">70</text>
<text x="528.5" y="197.6" font-size="9" text-anchor="middle">80</text>
<text x="430" y="210.9" font-size="10.9" class="b" text-anchor="middle">Temperature, °C</text>
<rect x="447.4" y="135.3" width="74.6" height="43.2" fill="#fff" stroke="#999" stroke-width="0.8"/>
<line x1="449" y1="141.8" x2="468" y2="141.8" stroke="#3a3af5" stroke-width="1.4" stroke-dasharray="3.7 3.8"/>
<text x="470.5" y="144.9" font-size="8.9" letter-spacing="-0.2" class="b">TPU-1(0/100)</text>
<line x1="449" y1="152.35" x2="468" y2="152.35" stroke="#f54040" stroke-width="1.4" stroke-dasharray="3.7 3.8"/>
<text x="470.5" y="155.45" font-size="8.9" letter-spacing="-0.2" class="b">TPU-2(50/50)</text>
<line x1="449" y1="162.9" x2="468" y2="162.9" stroke="#3ce63c" stroke-width="1.4" stroke-dasharray="3.7 3.8"/>
<text x="470.5" y="166" font-size="8.9" letter-spacing="-0.2" class="b">TPU-3(80/20)</text>
<line x1="449" y1="173.45" x2="468" y2="173.45" stroke="#333" stroke-width="1.4" stroke-dasharray="3.7 3.8"/>
<text x="470.5" y="176.55" font-size="8.9" letter-spacing="-0.2" class="b">TPU-4(100/0)</text>
<text x="422.3" y="237" font-size="12" class="cap" text-anchor="middle">(<tspan font-weight="bold">b</tspan>)</text>
</g>
<g id="pc">
<polyline points="57.2,396.6 58.16,394.88 59.11,392.51 60.07,389.81 61.02,386.88 61.98,383.78 62.94,380.52 63.89,377.14 64.85,373.66 65.8,370.09 66.76,366.45 67.72,362.76 68.67,359.02 69.63,355.25 70.58,351.46 71.54,347.65 72.5,343.84 73.45,340.05 74.41,336.27 75.36,332.51 76.32,328.79 77.28,325.12 78.23,321.49 79.19,317.93 80.14,314.43 81.1,311.01 82.06,307.68 83.01,304.43 83.97,301.28 84.92,298.23 85.88,295.29 86.84,292.46 87.79,289.76 88.75,287.18 89.7,284.72 90.66,282.41 91.62,280.22 92.57,278.18 93.53,276.29 94.48,274.54 95.44,272.94 96.4,271.49 97.35,270.19 98.31,269.05 99.26,268.06 100.22,267.22 101.18,266.54 102.13,266.01 103.09,265.64 104.04,265.41 105,265.34 105.96,265.43 106.91,265.69 107.87,266.12 108.82,266.72 109.78,267.49 110.74,268.41 111.69,269.49 112.65,270.72 113.6,272.09 114.56,273.6 115.52,275.24 116.47,277 117.43,278.88 118.38,280.88 119.34,282.97 120.3,285.17 121.25,287.45 122.21,289.81 123.16,292.25 124.12,294.75 125.08,297.3 126.03,299.91 126.99,302.56 127.94,305.25 128.9,307.96 129.86,310.69 130.81,313.44 131.77,316.19 132.72,318.94 133.68,321.69 134.64,324.42 135.59,327.13 136.55,329.82 137.5,332.48 138.46,335.11 139.42,337.69 140.37,340.24 141.33,342.73 142.28,345.18 143.24,347.57 144.2,349.9 145.15,352.18 146.11,354.39 147.06,356.54 148.02,358.63 148.98,360.65 149.93,362.6 150.89,364.48 151.84,366.29 152.8,368.04 153.76,369.71 154.71,371.32 155.67,372.86 156.62,374.33 157.58,375.74 158.54,377.08 159.49,378.35 160.45,379.57 161.4,380.72 162.36,381.81 163.32,382.84 164.27,383.81 165.23,384.73 166.18,385.6 167.14,386.42 168.1,387.18 169.05,387.9 170.01,388.58 170.96,389.21 171.92,389.8 172.88,390.35 173.83,390.86 174.79,391.34 175.74,391.78 176.7,392.19 177.66,392.57 178.61,392.93 179.57,393.25 180.52,393.55 181.48,393.83 182.44,394.08 183.39,394.32 184.35,394.53 185.3,394.73 186.26,394.91 187.22,395.08 188.17,395.23 189.13,395.36 190.08,395.49 191.04,395.6 192,395.7 192.95,395.8 193.91,395.88 194.86,395.96 195.82,396.03 196.78,396.09 197.73,396.15 198.69,396.2 199.64,396.24 200.6,396.28 201.56,396.32 202.51,396.35 203.47,396.38 204.42,396.41 205.38,396.43 206.34,396.45 207.29,396.47 208.25,396.48 209.2,396.5 210.16,396.51 211.12,396.52 212.07,396.53 213.03,396.54 213.98,396.55 214.94,396.56 215.9,396.56 216.85,396.57 217.81,396.57 218.76,396.57 219.72,396.58 220.68,396.58 221.63,396.58 222.59,396.59 223.54,396.59 224.5,396.59 225.46,396.59 226.41,396.59 227.37,396.59 228.32,396.59 229.28,396.6 230.24,396.6 231.19,396.6 232.15,396.6 233.1,396.6 234.06,396.6 235.02,396.6 235.97,396.6 236.93,396.6 237.88,396.6 238.84,396.6 239.8,396.6 240.75,396.6 241.71,396.6 242.66,396.6 243.62,396.6 244.58,396.6 245.53,396.6 246.49,396.6 247.44,396.6 248.4,396.6" fill="none" stroke="#222" stroke-width="1.35"/>
<polyline points="57.2,396.6 58.16,395.81 59.11,394.2 60.07,392.01 61.02,389.34 61.98,386.24 62.94,382.77 63.89,378.95 64.85,374.83 65.8,370.43 66.76,365.79 67.72,360.95 68.67,355.92 69.63,350.75 70.58,345.47 71.54,340.11 72.5,334.7 73.45,329.28 74.41,323.89 75.36,318.56 76.32,313.32 77.28,308.22 78.23,303.27 79.19,298.53 80.14,294.01 81.1,289.76 82.06,285.79 83.01,282.14 83.97,278.83 84.92,275.89 85.88,273.32 86.84,271.15 87.79,269.39 88.75,268.06 89.7,267.15 90.66,266.67 91.62,266.61 92.57,266.94 93.53,267.65 94.48,268.72 95.44,270.14 96.4,271.9 97.35,273.98 98.31,276.35 99.26,279.01 100.22,281.92 101.18,285.07 102.13,288.42 103.09,291.96 104.04,295.65 105,299.48 105.96,303.42 106.91,307.43 107.87,311.51 108.82,315.61 109.78,319.73 110.74,323.83 111.69,327.9 112.65,331.92 113.6,335.86 114.56,339.72 115.52,343.48 116.47,347.13 117.43,350.65 118.38,354.04 119.34,357.28 120.3,360.38 121.25,363.33 122.21,366.12 123.16,368.75 124.12,371.23 125.08,373.55 126.03,375.72 126.99,377.73 127.94,379.6 128.9,381.33 129.86,382.92 130.81,384.38 131.77,385.72 132.72,386.93 133.68,388.04 134.64,389.04 135.59,389.94 136.55,390.76 137.5,391.49 138.46,392.14 139.42,392.72 140.37,393.23 141.33,393.68 142.28,394.09 143.24,394.44 144.2,394.75 145.15,395.02 146.11,395.25 147.06,395.45 148.02,395.63 148.98,395.78 149.93,395.91 150.89,396.02 151.84,396.11 152.8,396.2 153.76,396.26 154.71,396.32 155.67,396.37 156.62,396.41 157.58,396.44 158.54,396.47 159.49,396.5 160.45,396.52 161.4,396.53 162.36,396.54 163.32,396.56 164.27,396.56 165.23,396.57 166.18,396.58 167.14,396.58 168.1,396.59 169.05,396.59 170.01,396.59 170.96,396.59 171.92,396.59 172.88,396.6 173.83,396.6 174.79,396.6 175.74,396.6 176.7,396.6 177.66,396.6 178.61,396.6 179.57,396.6 180.52,396.6 181.48,396.6 182.44,396.6 183.39,396.6 184.35,396.6 185.3,396.6 186.26,396.6 187.22,396.6 188.17,396.6 189.13,396.6 190.08,396.6 191.04,396.6 192,396.6 192.95,396.6 193.91,396.6 194.86,396.6 195.82,396.6 196.78,396.6 197.73,396.6 198.69,396.6 199.64,396.6 200.6,396.6 201.56,396.6 202.51,396.6 203.47,396.6 204.42,396.6 205.38,396.6 206.34,396.6 207.29,396.6 208.25,396.6 209.2,396.6 210.16,396.6 211.12,396.6 212.07,396.6 213.03,396.6 213.98,396.6 214.94,396.6 215.9,396.6 216.85,396.6 217.81,396.6 218.76,396.6 219.72,396.6 220.68,396.6 221.63,396.6 222.59,396.6 223.54,396.6 224.5,396.6 225.46,396.6 226.41,396.6 227.37,396.6 228.32,396.6 229.28,396.6 230.24,396.6 231.19,396.6 232.15,396.6 233.1,396.6 234.06,396.6 235.02,396.6 235.97,396.6 236.93,396.6 237.88,396.6 238.84,396.6 239.8,396.6 240.75,396.6 241.71,396.6 242.66,396.6 243.62,396.6 244.58,396.6 245.53,396.6 246.49,396.6 247.44,396.6 248.4,396.6" fill="none" stroke="#222" stroke-width="1.35" stroke-dasharray="2.6 2"/>
<polyline points="57.2,396.6 58.16,395.48 59.11,393.85 60.07,391.95 61.02,389.87 61.98,387.66 62.94,385.35 63.89,382.98 64.85,380.57 65.8,378.15 66.76,375.76 67.72,373.4 68.67,371.11 69.63,368.91 70.58,366.81 71.54,364.84 72.5,363.01 73.45,361.34 74.41,359.84 75.36,358.53 76.32,357.41 77.28,356.48 78.23,355.77 79.19,355.25 80.14,354.95 81.1,354.85 82.06,354.96 83.01,355.28 83.97,355.8 84.92,356.52 85.88,357.41 86.84,358.47 87.79,359.68 88.75,361.01 89.7,362.46 90.66,364 91.62,365.61 92.57,367.27 93.53,368.98 94.48,370.7 95.44,372.42 96.4,374.13 97.35,375.81 98.31,377.46 99.26,379.05 100.22,380.58 101.18,382.04 102.13,383.43 103.09,384.74 104.04,385.97 105,387.11 105.96,388.17 106.91,389.15 107.87,390.04 108.82,390.85 109.78,391.58 110.74,392.24 111.69,392.83 112.65,393.36 113.6,393.82 114.56,394.23 115.52,394.59 116.47,394.9 117.43,395.17 118.38,395.41 119.34,395.61 120.3,395.78 121.25,395.92 122.21,396.04 123.16,396.14 124.12,396.23 125.08,396.3 126.03,396.36 126.99,396.41 127.94,396.44 128.9,396.48 129.86,396.5 130.81,396.52 131.77,396.54 132.72,396.55 133.68,396.56 134.64,396.57 135.59,396.58 136.55,396.58 137.5,396.59 138.46,396.59 139.42,396.59 140.37,396.59 141.33,396.6 142.28,396.6 143.24,396.6 144.2,396.6 145.15,396.6 146.11,396.6 147.06,396.6 148.02,396.6 148.98,396.6 149.93,396.6 150.89,396.6 151.84,396.6 152.8,396.6 153.76,396.6 154.71,396.6 155.67,396.6 156.62,396.6 157.58,396.6 158.54,396.6 159.49,396.6 160.45,396.6 161.4,396.6 162.36,396.6 163.32,396.6 164.27,396.6 165.23,396.6 166.18,396.6 167.14,396.6 168.1,396.6 169.05,396.6 170.01,396.6 170.96,396.6 171.92,396.6 172.88,396.6 173.83,396.6 174.79,396.6 175.74,396.6 176.7,396.6 177.66,396.6 178.61,396.6 179.57,396.6 180.52,396.6 181.48,396.6 182.44,396.6 183.39,396.6 184.35,396.6 185.3,396.6 186.26,396.6 187.22,396.6 188.17,396.6 189.13,396.6 190.08,396.6 191.04,396.6 192,396.6 192.95,396.6 193.91,396.6 194.86,396.6 195.82,396.6 196.78,396.6 197.73,396.6 198.69,396.6 199.64,396.6 200.6,396.6 201.56,396.6 202.51,396.6 203.47,396.6 204.42,396.6 205.38,396.6 206.34,396.6 207.29,396.6 208.25,396.6 209.2,396.6 210.16,396.6 211.12,396.6 212.07,396.6 213.03,396.6 213.98,396.6 214.94,396.6 215.9,396.6 216.85,396.6 217.81,396.6 218.76,396.6 219.72,396.6 220.68,396.6 221.63,396.6 222.59,396.6 223.54,396.6 224.5,396.6 225.46,396.6 226.41,396.6 227.37,396.6 228.32,396.6 229.28,396.6 230.24,396.6 231.19,396.6 232.15,396.6 233.1,396.6 234.06,396.6 235.02,396.6 235.97,396.6 236.93,396.6 237.88,396.6 238.84,396.6 239.8,396.6 240.75,396.6 241.71,396.6 242.66,396.6 243.62,396.6 244.58,396.6 245.53,396.6 246.49,396.6 247.44,396.6 248.4,396.6" fill="none" stroke="#2020ee" stroke-width="1.35" stroke-dasharray="2.6 2"/>
<rect x="57" y="250.7" width="193" height="156.6" fill="none" stroke="#4a4a4a" stroke-width="1.2"/>
<line x1="105.25" y1="407.3" x2="105.25" y2="404.3" stroke="#4a4a4a" stroke-width="1"/>
<line x1="153.5" y1="407.3" x2="153.5" y2="404.3" stroke="#4a4a4a" stroke-width="1"/>
<line x1="201.75" y1="407.3" x2="201.75" y2="404.3" stroke="#4a4a4a" stroke-width="1"/>
<line x1="250" y1="407.3" x2="250" y2="404.3" stroke="#4a4a4a" stroke-width="1"/>
<line x1="81.12" y1="407.3" x2="81.12" y2="405.5" stroke="#4a4a4a" stroke-width="1"/>
<line x1="129.38" y1="407.3" x2="129.38" y2="405.5" stroke="#4a4a4a" stroke-width="1"/>
<line x1="177.62" y1="407.3" x2="177.62" y2="405.5" stroke="#4a4a4a" stroke-width="1"/>
<line x1="225.88" y1="407.3" x2="225.88" y2="405.5" stroke="#4a4a4a" stroke-width="1"/>
<text x="105.37" y="417.5" font-size="8.8" text-anchor="middle" class="b" letter-spacing="0.25">20</text>
<text x="153.62" y="417.5" font-size="8.8" text-anchor="middle" class="b" letter-spacing="0.25">40</text>
<text x="201.87" y="417.5" font-size="8.8" text-anchor="middle" class="b" letter-spacing="0.25">60</text>
<text x="250.12" y="417.5" font-size="8.8" text-anchor="middle" class="b" letter-spacing="0.25">80</text>
<line x1="57" y1="396.6" x2="59.6" y2="396.6" stroke="#4a4a4a" stroke-width="1"/>
<line x1="57" y1="344.8" x2="59.6" y2="344.8" stroke="#4a4a4a" stroke-width="1"/>
<line x1="57" y1="293" x2="59.6" y2="293" stroke="#4a4a4a" stroke-width="1"/>
<line x1="57" y1="370.7" x2="58.6" y2="370.7" stroke="#4a4a4a" stroke-width="1"/>
<line x1="57" y1="318.9" x2="58.6" y2="318.9" stroke="#4a4a4a" stroke-width="1"/>
<line x1="57" y1="267.1" x2="58.6" y2="267.1" stroke="#4a4a4a" stroke-width="1"/>
<text x="53.3" y="399.5" font-size="8.8" letter-spacing="0.25" class="b" text-anchor="end">0.00</text>
<text x="53.3" y="347.7" font-size="8.8" letter-spacing="0.25" class="b" text-anchor="end">0.05</text>
<text x="53.3" y="295.9" font-size="8.8" letter-spacing="0.25" class="b" text-anchor="end">0.10</text>
<text transform="translate(14.7,332.2) rotate(-90)" font-size="11.7" class="b" text-anchor="middle">Heat Flow, mW</text>
<text transform="translate(28.6,331.7) rotate(-90)" font-size="11.7" class="b" text-anchor="middle">Endo Up</text>
<text x="142.6" y="433.2" font-size="11.8" class="b" text-anchor="middle">Time, min</text>
<rect x="153.5" y="259.6" width="85.8" height="30.6" fill="#fff" stroke="#999" stroke-width="0.8"/>
<line x1="155" y1="265.5" x2="171.6" y2="265.5" stroke="#111" stroke-width="1.3"/>
<text x="173.8" y="268.3" font-size="7.5" letter-spacing="-0.18" class="b">TPU-4(100/0) 25 °C</text>
<line x1="155" y1="275.45" x2="171.6" y2="275.45" stroke="#111" stroke-width="1.3" stroke-dasharray="2.6 2"/>
<text x="173.8" y="278.25" font-size="7.5" letter-spacing="-0.18" class="b">TPU-4(100/0) -5 °C</text>
<line x1="155" y1="285.4" x2="171.6" y2="285.4" stroke="#2020ee" stroke-width="1.3" stroke-dasharray="2.6 2"/>
<text x="173.8" y="288.2" font-size="7.5" letter-spacing="-0.18" class="b">TPU-1(0/100) -5 °C</text>
<text x="127" y="459.5" font-size="11.5" class="cap" text-anchor="middle">(<tspan>c</tspan>)</text>
</g>
<g id="pd">
<polyline points="343.9,400.2 344.89,400.2 345.87,400.2 346.86,400.2 347.84,400.2 348.83,400.2 349.82,400.18 350.8,400.09 351.79,399.95 352.77,399.73 353.76,399.45 354.75,399.1 355.73,398.68 356.72,398.19 357.7,397.63 358.69,397 359.68,396.3 360.66,395.53 361.65,394.69 362.63,393.79 363.62,392.81 364.61,391.77 365.59,390.67 366.58,389.5 367.56,388.27 368.55,386.99 369.54,385.64 370.52,384.23 371.51,382.78 372.49,381.27 373.48,379.71 374.47,378.1 375.45,376.44 376.44,374.74 377.42,373.01 378.41,371.23 379.4,369.42 380.38,367.57 381.37,365.7 382.35,363.79 383.34,361.86 384.33,359.91 385.31,357.94 386.3,355.95 387.28,353.95 388.27,351.93 389.26,349.91 390.24,347.88 391.23,345.85 392.21,343.81 393.2,341.77 394.19,339.74 395.17,337.72 396.16,335.7 397.14,333.69 398.13,331.7 399.12,329.72 400.1,327.76 401.09,325.81 402.07,323.89 403.06,321.98 404.05,320.11 405.03,318.25 406.02,316.43 407,314.63 407.99,312.86 408.98,311.12 409.96,309.41 410.95,307.74 411.93,306.1 412.92,304.49 413.91,302.92 414.89,301.39 415.88,299.89 416.86,298.43 417.85,297.01 418.84,295.6 419.82,294.23 420.81,292.9 421.79,291.61 422.78,290.35 423.77,289.14 424.75,287.96 425.74,286.82 426.72,285.71 427.71,284.65 428.7,283.61 429.68,282.62 430.67,281.66 431.65,280.73 432.64,279.84 433.63,278.99 434.61,278.16 435.6,277.37 436.58,276.61 437.57,275.88 438.56,275.19 439.54,274.52 440.53,273.88 441.51,273.27 442.5,272.68 443.49,272.12 444.47,271.59 445.46,271.08 446.44,270.6 447.43,270.14 448.42,269.7 449.4,269.28 450.39,268.88 451.37,268.51 452.36,268.15 453.35,267.81 454.33,267.49 455.32,267.18 456.3,266.89 457.29,266.62 458.28,266.36 459.26,266.12 460.25,265.89 461.23,265.67 462.22,265.46 463.21,265.27 464.19,265.08 465.18,264.91 466.16,264.75 467.15,264.59 468.14,264.44 469.12,264.31 470.11,264.18 471.09,264.06 472.08,263.94 473.07,263.83 474.05,263.73 475.04,263.63 476.02,263.54 477.01,263.46 478,263.38 478.98,263.3 479.97,263.23 480.95,263.16 481.94,263.09 482.93,263.03 483.91,262.98 484.9,262.92 485.88,262.87 486.87,262.82 487.86,262.77 488.84,262.73 489.83,262.68 490.81,262.64 491.8,262.6 492.79,262.57 493.77,262.53 494.76,262.5 495.74,262.46 496.73,262.43 497.72,262.4 498.7,262.37 499.69,262.34 500.67,262.31 501.66,262.29 502.65,262.26 503.63,262.23 504.62,262.21 505.6,262.18 506.59,262.16 507.58,262.13 508.56,262.11 509.55,262.09 510.53,262.07 511.52,262.04 512.51,262.02 513.49,262 514.48,261.98 515.46,261.96 516.45,261.94 517.44,261.91 518.42,261.89 519.41,261.87 520.39,261.85 521.38,261.83 522.37,261.81 523.35,261.79 524.34,261.77 525.32,261.75 526.31,261.73 527.3,261.71 528.28,261.69 529.27,261.67 530.25,261.65 531.24,261.63 532.23,261.61 533.21,261.6 534.2,261.58 535.18,261.56 536.17,261.54 537.16,261.52 537.65,261.51" fill="none" stroke="#222" stroke-width="1.35"/>
<polyline points="343.9,400.2 344.89,400.2 345.87,400.2 346.86,400.2 347.84,400.16 348.83,400.06 349.82,399.89 350.8,399.64 351.79,399.28 352.77,398.81 353.76,398.23 354.75,397.51 355.73,396.66 356.72,395.67 357.7,394.54 358.69,393.25 359.68,391.82 360.66,390.23 361.65,388.5 362.63,386.61 363.62,384.58 364.61,382.4 365.59,380.09 366.58,377.64 367.56,375.07 368.55,372.38 369.54,369.59 370.52,366.7 371.51,363.72 372.49,360.66 373.48,357.55 374.47,354.38 375.45,351.18 376.44,347.95 377.42,344.71 378.41,341.47 379.4,338.25 380.38,335.05 381.37,331.89 382.35,328.79 383.34,325.74 384.33,322.77 385.31,319.87 386.3,317.07 387.28,314.36 388.27,311.76 389.26,309.26 390.24,306.88 391.23,304.61 392.21,302.46 393.2,300.43 394.19,298.53 395.17,296.74 396.16,295.07 397.14,293.52 398.13,292.08 399.12,290.75 400.1,289.54 401.09,288.42 402.07,287.4 403.06,286.47 404.05,285.63 405.03,284.88 406.02,284.2 407,283.59 407.99,283.05 408.98,282.57 409.96,282.14 410.95,281.77 411.93,281.44 412.92,281.15 413.91,280.9 414.89,280.68 415.88,280.5 416.86,280.34 417.85,280.2 418.84,280.07 419.82,279.96 420.81,279.86 421.79,279.78 422.78,279.71 423.77,279.65 424.75,279.59 425.74,279.55 426.72,279.51 427.71,279.47 428.7,279.44 429.68,279.41 430.67,279.39 431.65,279.37 432.64,279.35 433.63,279.33 434.61,279.31 435.6,279.3 436.58,279.28 437.57,279.27 438.56,279.25 439.54,279.24 440.53,279.23 441.51,279.21 442.5,279.2 443.49,279.19 444.47,279.18 445.46,279.16 446.44,279.15 447.43,279.14 448.42,279.13 449.4,279.11 450.39,279.1 451.37,279.09 452.36,279.08 453.35,279.07 454.33,279.05 455.32,279.04 456.3,279.03 457.29,279.02 458.28,279.01 459.26,278.99 460.25,278.98 461.23,278.97 462.22,278.96 463.21,278.95 464.19,278.93 465.18,278.92 466.16,278.91 467.15,278.9 468.14,278.88 469.12,278.87 470.11,278.86 471.09,278.85 472.08,278.84 473.07,278.82 474.05,278.81 475.04,278.8 476.02,278.79 477.01,278.78 478,278.76 478.98,278.75 479.97,278.74 480.95,278.73 481.94,278.72 482.93,278.7 483.91,278.69 484.9,278.68 485.88,278.67 486.87,278.66 487.86,278.64 488.84,278.63 489.83,278.62 490.81,278.61 491.8,278.6 492.79,278.58 493.77,278.57 494.76,278.56 495.74,278.55 496.73,278.54 497.72,278.52 498.7,278.51 499.69,278.5 500.67,278.49 501.66,278.48 502.65,278.46 503.63,278.45 504.62,278.44 505.6,278.43 506.59,278.42 507.58,278.4 508.56,278.39 509.55,278.38 510.53,278.37 511.52,278.36 512.51,278.34 513.49,278.33 514.48,278.32 515.46,278.31 516.45,278.29 517.44,278.28 518.42,278.27 519.41,278.26 520.39,278.25 521.38,278.23 522.37,278.22 523.35,278.21 524.34,278.2 525.32,278.19 526.31,278.17 527.3,278.16 528.28,278.15 529.27,278.14 530.25,278.13 531.24,278.11 532.23,278.1 533.21,278.09 534.2,278.08 535.18,278.07 536.17,278.05 537.16,278.04 537.65,278.04" fill="none" stroke="#222" stroke-width="1.35" stroke-dasharray="2.6 2"/>
<polyline points="343.9,399.92 344.89,399.76 345.87,399.54 346.86,399.27 347.84,398.93 348.83,398.54 349.82,398.08 350.8,397.56 351.79,396.96 352.77,396.3 353.76,395.57 354.75,394.76 355.73,393.89 356.72,392.94 357.7,391.93 358.69,390.86 359.68,389.72 360.66,388.52 361.65,387.27 362.63,385.97 363.62,384.62 364.61,383.24 365.59,381.82 366.58,380.37 367.56,378.9 368.55,377.41 369.54,375.91 370.52,374.41 371.51,372.91 372.49,371.42 373.48,369.95 374.47,368.49 375.45,367.06 376.44,365.67 377.42,364.31 378.41,362.99 379.4,361.72 380.38,360.49 381.37,359.32 382.35,358.2 383.34,357.13 384.33,356.12 385.31,355.17 386.3,354.27 387.28,353.44 388.27,352.66 389.26,351.94 390.24,351.27 391.23,350.65 392.21,350.09 393.2,349.57 394.19,349.11 395.17,348.68 396.16,348.3 397.14,347.96 398.13,347.65 399.12,347.38 400.1,347.14 401.09,346.93 402.07,346.74 403.06,346.58 404.05,346.44 405.03,346.31 406.02,346.21 407,346.11 407.99,346.04 408.98,345.97 409.96,345.91 410.95,345.87 411.93,345.83 412.92,345.79 413.91,345.77 414.89,345.74 415.88,345.72 416.86,345.71 417.85,345.7 418.84,345.68 419.82,345.68 420.81,345.67 421.79,345.66 422.78,345.66 423.77,345.66 424.75,345.65 425.74,345.65 426.72,345.65 427.71,345.65 428.7,345.65 429.68,345.65 430.67,345.65 431.65,345.65 432.64,345.65 433.63,345.65 434.61,345.65 435.6,345.65 436.58,345.65 437.57,345.65 438.56,345.65 439.54,345.65 440.53,345.65 441.51,345.65 442.5,345.65 443.49,345.65 444.47,345.65 445.46,345.65 446.44,345.65 447.43,345.65 448.42,345.65 449.4,345.65 450.39,345.65 451.37,345.65 452.36,345.65 453.35,345.65 454.33,345.65 455.32,345.65 456.3,345.65 457.29,345.65 458.28,345.65 459.26,345.65 460.25,345.65 461.23,345.65 462.22,345.65 463.21,345.65 464.19,345.65 465.18,345.65 466.16,345.65 467.15,345.65 468.14,345.65 469.12,345.65 470.11,345.65 471.09,345.65 472.08,345.65 473.07,345.65 474.05,345.65 475.04,345.65 476.02,345.65 477.01,345.65 478,345.65 478.98,345.65 479.97,345.65 480.95,345.65 481.94,345.65 482.93,345.65 483.91,345.65 484.9,345.65 485.88,345.65 486.87,345.65 487.86,345.65 488.84,345.65 489.83,345.65 490.81,345.65 491.8,345.65 492.79,345.65 493.77,345.65 494.76,345.65 495.74,345.65 496.73,345.65 497.72,345.65 498.7,345.65 499.69,345.65 500.67,345.65 501.66,345.65 502.65,345.65 503.63,345.65 504.62,345.65 505.6,345.65 506.59,345.65 507.58,345.65 508.56,345.65 509.55,345.65 510.53,345.65 511.52,345.65 512.51,345.65 513.49,345.65 514.48,345.65 515.46,345.65 516.45,345.65 517.44,345.65 518.42,345.65 519.41,345.65 520.39,345.65 521.38,345.65 522.37,345.65 523.35,345.65 524.34,345.65 525.32,345.65 526.31,345.65 527.3,345.65 528.28,345.65 529.27,345.65 530.25,345.65 531.24,345.65 532.23,345.65 533.21,345.65 534.2,345.65 535.18,345.65 536.17,345.65 537.16,345.65 537.65,345.65" fill="none" stroke="#2020ee" stroke-width="1.35" stroke-dasharray="2.6 2"/>
<rect x="343.8" y="249.5" width="198.2" height="159" fill="none" stroke="#4a4a4a" stroke-width="1.2"/>
<line x1="393.35" y1="408.5" x2="393.35" y2="405.5" stroke="#4a4a4a" stroke-width="1"/>
<line x1="442.9" y1="408.5" x2="442.9" y2="405.5" stroke="#4a4a4a" stroke-width="1"/>
<line x1="492.45" y1="408.5" x2="492.45" y2="405.5" stroke="#4a4a4a" stroke-width="1"/>
<line x1="542" y1="408.5" x2="542" y2="405.5" stroke="#4a4a4a" stroke-width="1"/>
<line x1="368.57" y1="408.5" x2="368.57" y2="406.7" stroke="#4a4a4a" stroke-width="1"/>
<line x1="418.12" y1="408.5" x2="418.12" y2="406.7" stroke="#4a4a4a" stroke-width="1"/>
<line x1="467.68" y1="408.5" x2="467.68" y2="406.7" stroke="#4a4a4a" stroke-width="1"/>
<line x1="517.23" y1="408.5" x2="517.23" y2="406.7" stroke="#4a4a4a" stroke-width="1"/>
<text x="393.47" y="418.8" font-size="8.8" text-anchor="middle" class="b" letter-spacing="0.25">20</text>
<text x="443.02" y="418.8" font-size="8.8" text-anchor="middle" class="b" letter-spacing="0.25">40</text>
<text x="492.57" y="418.8" font-size="8.8" text-anchor="middle" class="b" letter-spacing="0.25">60</text>
<text x="542.12" y="418.8" font-size="8.8" text-anchor="middle" class="b" letter-spacing="0.25">80</text>
<line x1="343.8" y1="400.2" x2="346.40000000000003" y2="400.2" stroke="#4a4a4a" stroke-width="1"/>
<line x1="343.8" y1="370.1" x2="346.40000000000003" y2="370.1" stroke="#4a4a4a" stroke-width="1"/>
<line x1="343.8" y1="340" x2="346.40000000000003" y2="340" stroke="#4a4a4a" stroke-width="1"/>
<line x1="343.8" y1="309.9" x2="346.40000000000003" y2="309.9" stroke="#4a4a4a" stroke-width="1"/>
<line x1="343.8" y1="279.8" x2="346.40000000000003" y2="279.8" stroke="#4a4a4a" stroke-width="1"/>
<line x1="343.8" y1="249.7" x2="346.40000000000003" y2="249.7" stroke="#4a4a4a" stroke-width="1"/>
<line x1="343.8" y1="385.15" x2="345.40000000000003" y2="385.15" stroke="#4a4a4a" stroke-width="1"/>
<line x1="343.8" y1="355.05" x2="345.40000000000003" y2="355.05" stroke="#4a4a4a" stroke-width="1"/>
<line x1="343.8" y1="324.95" x2="345.40000000000003" y2="324.95" stroke="#4a4a4a" stroke-width="1"/>
<line x1="343.8" y1="294.85" x2="345.40000000000003" y2="294.85" stroke="#4a4a4a" stroke-width="1"/>
<line x1="343.8" y1="264.75" x2="345.40000000000003" y2="264.75" stroke="#4a4a4a" stroke-width="1"/>
<text x="340" y="403.1" font-size="8.8" letter-spacing="0.25" class="b" text-anchor="end">0.00</text>
<text x="340" y="373" font-size="8.8" letter-spacing="0.25" class="b" text-anchor="end">0.05</text>
<text x="340" y="342.9" font-size="8.8" letter-spacing="0.25" class="b" text-anchor="end">0.10</text>
<text x="340" y="312.8" font-size="8.8" letter-spacing="0.25" class="b" text-anchor="end">0.15</text>
<text x="340" y="282.7" font-size="8.8" letter-spacing="0.25" class="b" text-anchor="end">0.20</text>
<text x="340" y="252.6" font-size="8.8" letter-spacing="0.25" class="b" text-anchor="end">0.25</text>
<path d="M301.2,336.7 L312.3,342.9" stroke="#111" stroke-width="1.6" fill="none"/><path d="M302.6,343.8 C301.2,342.9 301.6,341.4 303.6,340.6 L310.2,337.7 C312,336.9 312.2,335.9 311.4,335.2" stroke="#111" stroke-width="1.1" fill="none"/><text transform="translate(309.9,336.3) rotate(-90)"><tspan font-size="12" dy="3.9">c</tspan><tspan font-size="14.5" dx="0.9" dy="-3.9" letter-spacing="-0.65">(t)</tspan></text>
<text x="436" y="439.1" font-size="11.8" class="b" text-anchor="middle">Time, min</text>
<rect x="442.3" y="366.3" width="88.4" height="30.8" fill="#fff" stroke="#999" stroke-width="0.8"/>
<line x1="443.8" y1="372.1" x2="460" y2="372.1" stroke="#111" stroke-width="1.3"/>
<text x="462.8" y="374.9" font-size="7.55" letter-spacing="-0.02" class="b">TPU-4(100/0) 25 °C</text>
<line x1="443.8" y1="382.05" x2="460" y2="382.05" stroke="#111" stroke-width="1.3" stroke-dasharray="2.6 2"/>
<text x="462.8" y="384.85" font-size="7.55" letter-spacing="-0.02" class="b">TPU-4(100/0) -5 °C</text>
<line x1="443.8" y1="392" x2="460" y2="392" stroke="#2020ee" stroke-width="1.3" stroke-dasharray="2.6 2"/>
<text x="462.8" y="394.8" font-size="7.55" letter-spacing="-0.02" class="b">TPU-1(0/100) -5 °C</text>
<text x="422" y="459.5" font-size="11.5" class="cap" text-anchor="middle">(<tspan font-weight="bold">d</tspan>)</text>
</g>
</svg>
</body></html>
